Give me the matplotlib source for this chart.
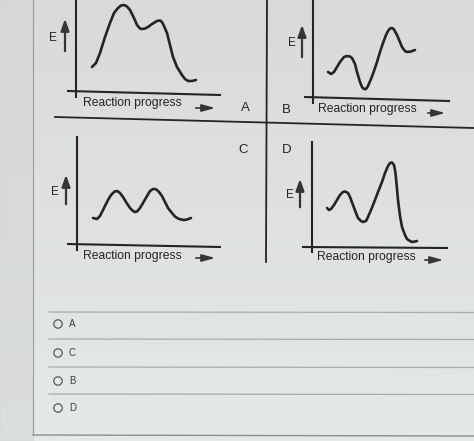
import matplotlib
matplotlib.use("Agg")
import matplotlib.pyplot as plt
import numpy as np
from matplotlib.patches import Rectangle, Circle

# ---- data (pixel coordinates, y downward) ----
curve_a_x = [92, 96, 100, 105, 110, 114, 118, 121, 124, 127, 130, 134, 137, 140, 142, 145, 148, 152, 157, 160, 162, 164, 167, 170, 173, 177, 182, 185, 188, 192, 196]
curve_a_y = [67, 63, 53, 37, 23, 13, 8, 5.5, 5, 6.5, 10, 18, 25, 28.5, 29, 28.5, 27, 24, 21, 20.5, 22, 26, 33, 45, 57, 67, 75, 79, 81, 81, 80]

curve_b_x = [328, 331, 334, 337, 340, 344, 347, 350, 352, 355, 357, 360, 362, 364, 366, 368, 371, 374, 377, 380, 383, 386, 388, 390, 392, 394, 397, 400, 402, 405, 407, 411, 415]
curve_b_y = [72, 74, 72, 67, 62, 57, 56, 56.5, 58, 64, 72, 82, 87, 89, 89, 86, 79, 71, 62, 52, 43, 35, 31, 28.5, 28, 29.5, 35, 42, 47, 51, 52, 51.5, 50]

curve_c_x = [93, 97, 100, 104, 108, 111, 114, 116, 118, 120, 123, 126, 130, 133, 135, 137, 140, 143, 147, 150, 153, 155, 157, 159, 162, 165, 168, 172, 175, 178, 181, 184, 187, 191]
curve_c_y = [218, 219, 216, 208, 200, 195, 192, 191, 191.5, 193, 197, 202, 208, 211, 212, 211.5, 208, 203, 196, 191, 189, 189, 190, 192, 196, 202, 208, 213, 216.5, 218.5, 219.5, 220, 219.5, 218]

curve_d_x = [327, 329, 331, 334, 337, 340, 343, 345, 348, 350, 353, 356, 358, 361, 363, 366, 368, 371, 375, 378, 382, 385, 388, 390, 392, 394, 395, 396, 398, 400, 402, 405, 407, 410, 412, 415, 417]
curve_d_y = [208, 210, 209, 205, 200, 195, 192, 191.5, 193, 197, 205, 213, 218, 221, 222, 221, 217, 210, 200, 192, 182, 173, 166, 163, 162.5, 165, 170, 178, 200, 216, 227, 235, 239, 241, 242, 241.5, 241]

panel_labels = ["A", "B", "C", "D"]
axis_label = "Reaction progress"
energy_label = "E"
options = ["A", "C", "B", "D"]

# ---- figure ----
W, H = 474, 441
fig = plt.figure(figsize=(W / 100, H / 100), dpi=100)
ax = fig.add_axes([0, 0, 1, 1])
ax.set_xlim(0, W)
ax.set_ylim(H, 0)
ax.axis("off")

ink = "#242424"
font = "Liberation Sans"

# background: soft vertical gradient like the photographed page
top = np.array([0.852, 0.852, 0.852])
bot = np.array([0.900, 0.915, 0.915])
t = np.linspace(0, 1, 256)[:, None]
grad = (top[None, :] * (1 - t) + bot[None, :] * t)[:, None, :]
ax.imshow(grad, extent=(0, W, H, 0), aspect="auto", zorder=0, interpolation="bilinear")
ax.add_patch(Rectangle((0, 0), 33, H, color="#d4d6d6", alpha=0.6, zorder=0.5))
ax.plot([33, 33], [0, 435], color="#9a9e9e", lw=0.8, zorder=1)
ax.plot([33, W], [435, 436], color="#8c9090", lw=1.0, zorder=1)
ax.set_xlim(0, W)
ax.set_ylim(H, 0)

# dividers
ax.plot([55, W], [117, 128], color=ink, lw=1.3, zorder=2)
ax.plot([267, 266], [0, 262], color=ink, lw=1.3, zorder=2)

def panel(yaxis_x, ytop, ybot, xaxis, E_pos, arrow_x, arrow_y0, arrow_y1,
          text_pos, rarrow, cx, cy):
    ax.plot([yaxis_x, yaxis_x], [ytop, ybot], color=ink, lw=1.5, zorder=3)
    ax.plot([xaxis[0], xaxis[2]], [xaxis[1], xaxis[3]], color=ink, lw=1.5, zorder=3)
    ax.text(E_pos[0], E_pos[1], energy_label, fontsize=8.5, family=font,
            color=ink, ha="center", va="center", zorder=4)
    ax.annotate("", xy=(arrow_x, arrow_y1), xytext=(arrow_x, arrow_y0),
                arrowprops=dict(arrowstyle="-|>,head_length=0.7,head_width=0.25",
                                color="#353535", lw=1.6), zorder=4)
    ax.text(text_pos[0], text_pos[1], axis_label, fontsize=8.7, family=font,
            color=ink, ha="left", va="center", zorder=4)
    ax.annotate("", xy=(rarrow[1], rarrow[2]), xytext=(rarrow[0], rarrow[2]),
                arrowprops=dict(arrowstyle="-|>,head_length=0.8,head_width=0.22",
                                color="#353535", lw=1.2), zorder=4)
    ax.plot(cx, cy, color=ink, lw=1.9, solid_capstyle="round",
            solid_joinstyle="round", zorder=5)

# Panel A
panel(76, 0, 97, (68, 91, 220, 95), (53, 38), 65, 54, 16, (83, 103),
      (193, 218, 108), curve_a_x, curve_a_y)
# Panel B
panel(313, 0, 103, (305, 97, 449, 101), (292, 43), 302, 60, 22, (318, 109),
      (425, 448, 113), curve_b_x, curve_b_y)
# Panel C
panel(77, 137, 250, (68, 244, 220, 247), (55, 192), 66, 207, 172, (83, 256),
      (193, 218, 258), curve_c_x, curve_c_y)
# Panel D
panel(312, 142, 252, (303, 247, 447, 248), (290, 195), 300, 210, 176, (317, 257),
      (422, 446, 260), curve_d_x, curve_d_y)

# panel letters
for lab, (x, y) in zip(panel_labels, [(245, 108), (286, 110), (243, 150), (287, 150)]):
    ax.text(x, y, lab, fontsize=9.5, family=font, color=ink,
            ha="center", va="center", zorder=4)

# answer options
for ly in [312, 339, 367, 394]:
    ax.plot([49, W], [ly, ly + 0.5], color="#a8acac", lw=0.9, zorder=2)
for opt, oy in zip(options, [324, 353, 381, 408]):
    ax.add_patch(Circle((58, oy), 4.2, fill=False, ec="#555a5a", lw=0.9, zorder=3))
    ax.text(69, oy, opt, fontsize=7, family=font, color="#3a3e3e",
            ha="left", va="center", zorder=3)

fig.savefig("out.png", dpi=100)
